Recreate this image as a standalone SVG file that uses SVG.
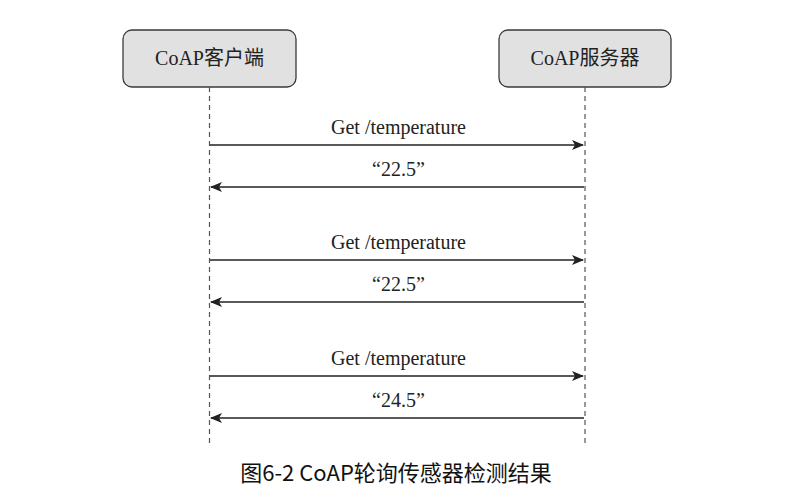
<svg xmlns="http://www.w3.org/2000/svg" width="786" height="502" viewBox="0 0 786 502">
<style>
.box{fill:#e1e1e1;stroke:#3a3a3a;stroke-width:1.3}
.life{stroke:#555;stroke-width:1.2;stroke-dasharray:5,4;fill:none}
.msg{stroke:#222;stroke-width:1.3;fill:none}
.t{font-family:"Liberation Serif","Noto Sans CJK SC",serif;font-size:20px;fill:#222;text-anchor:middle}
.cap{font-family:"Noto Sans CJK SC","Noto Sans",sans-serif;font-size:22px;fill:#111;text-anchor:middle}
</style>
<defs>
<marker id="ah" viewBox="0 0 12 10" refX="11" refY="5" markerWidth="12" markerHeight="10" markerUnits="userSpaceOnUse" orient="auto">
<path d="M0,0 L12,5 L0,10 L3,5 Z" fill="#222"/>
</marker>
</defs>
<rect width="786" height="502" fill="#fff"/>
<g id="client">
<rect class="box" x="123" y="30" width="173" height="57" rx="9"/>
<text class="t" x="209.5" y="65">CoAP客户端</text>
</g>
<g id="server">
<rect class="box" x="499" y="30" width="172" height="57" rx="9"/>
<text class="t" x="585" y="65">CoAP服务器</text>
</g>
<g id="connectors">
<line class="life" x1="209.5" y1="87" x2="209.5" y2="444"/>
<line class="life" x1="585" y1="87" x2="585" y2="444"/>
<line class="msg" x1="210" y1="145" x2="583" y2="145" marker-end="url(#ah)"/>
<line class="msg" x1="584" y1="187" x2="211" y2="187" marker-end="url(#ah)"/>
<line class="msg" x1="210" y1="260" x2="583" y2="260" marker-end="url(#ah)"/>
<line class="msg" x1="584" y1="302" x2="211" y2="302" marker-end="url(#ah)"/>
<line class="msg" x1="210" y1="376" x2="583" y2="376" marker-end="url(#ah)"/>
<line class="msg" x1="584" y1="418" x2="211" y2="418" marker-end="url(#ah)"/>
<text class="t" x="398.5" y="134">Get /temperature</text>
<text class="t" x="398.5" y="176">“22.5”</text>
<text class="t" x="398.5" y="249">Get /temperature</text>
<text class="t" x="398.5" y="291">“22.5”</text>
<text class="t" x="398.5" y="365">Get /temperature</text>
<text class="t" x="398.5" y="407">“24.5”</text>
</g>
<text class="cap" x="396" y="481">图6-2 CoAP轮询传感器检测结果</text>
</svg>
